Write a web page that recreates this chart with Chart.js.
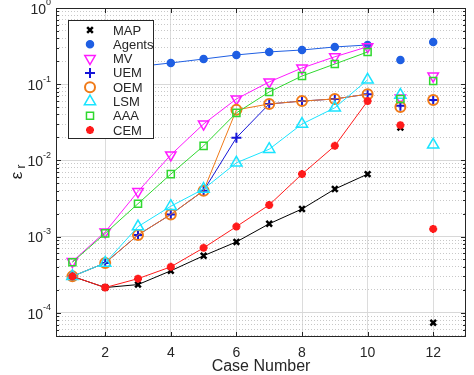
<!DOCTYPE html>
<html>
<head>
<meta charset="utf-8">
<script src="https://cdn.jsdelivr.net/npm/chart.js@4.4.0/dist/chart.umd.min.js"></script>
<style>
  html, body { margin: 0; padding: 0; background: #fff; }
</style>
</head>
<body>
<canvas id="chart" width="474" height="375"></canvas>
<script>
// case numbers on the x axis
const cases = [1, 2, 3, 4, 5, 6, 7, 8, 9, 10, 11, 12];

// relative error per method (cases 11 and 12 are not joined by lines)
const mapErr    = [3.0e-4, 2.14e-4, 2.34e-4, 3.55e-4, 5.6e-4, 8.5e-4, 1.47e-3, 2.3e-3, 4.2e-3, 6.6e-3, 0.027, 7.4e-5];
const agentsErr = [0.13, 0.15, 0.17, 0.19, 0.214, 0.242, 0.265, 0.281, 0.308, 0.327, 0.208, 0.358];
const mvErr     = [4.7e-4, 1.15e-3, 3.9e-3, 0.0118, 0.030, 0.064, 0.107, 0.163, 0.229, 0.31, 0.066, 0.128];
const uemErr    = [3.0e-4, 4.5e-4, 1.05e-3, 1.95e-3, 4.0e-3, 0.0198, 0.055, 0.060, 0.064, 0.074, 0.052, 0.062];
const oemErr    = [3.0e-4, 4.5e-4, 1.05e-3, 1.95e-3, 4.0e-3, 0.046, 0.055, 0.060, 0.064, 0.074, 0.050, 0.062];
const lsmErr    = [3.0e-4, 4.5e-4, 1.35e-3, 2.5e-3, 4.2e-3, 9.3e-3, 0.014, 0.030, 0.049, 0.114, 0.072, 0.016];
const aaaErr    = [4.6e-4, 1.1e-3, 2.7e-3, 6.6e-3, 0.0155, 0.042, 0.079, 0.128, 0.184, 0.265, 0.064, 0.11];
const cemErr    = [3.0e-4, 2.14e-4, 2.8e-4, 4.0e-4, 7.1e-4, 1.35e-3, 2.6e-3, 6.6e-3, 0.0155, 0.060, 0.029, 1.26e-3];

// tick labels
const xTicks = [2, 4, 6, 8, 10, 12];
const yTicks = [1e-4, 1e-3, 1e-2, 1e-1, 1];
const yExps  = ['-4', '-3', '-2', '-1', '0'];

const lastJoined = 10;
const textColor = '#262626';
const fontFam = "'Liberation Sans', Arial, sans-serif";

function series(label, data, color, style, opts) {
  return Object.assign({
    label: label,
    data: data,
    borderColor: color,
    backgroundColor: 'rgba(0,0,0,0)',
    pointBorderColor: color,
    pointBackgroundColor: 'rgba(0,0,0,0)',
    pointStyle: style,
    pointRadius: 5,
    pointHoverRadius: 5,
    pointBorderWidth: 1.5,
    borderWidth: 1,
    tension: 0,
    segment: {
      borderColor: ctx => ctx.p0.parsed.x >= lastJoined ? 'rgba(0,0,0,0)' : undefined
    }
  }, opts || {});
}

const datasets = [
  series('MAP', mapErr, '#000000', 'crossRot', { pointRadius: 4, pointBorderWidth: 2.5, order: 8 }),
  series('Agents', agentsErr, '#1f5fe3', 'circle', { pointRadius: 3.5, pointBackgroundColor: '#1f5fe3', order: 7 }),
  series('MV', mvErr, '#ff1aff', 'triangle', { pointRotation: 180, pointRadius: 6, order: 6 }),
  series('UEM', uemErr, '#1515d8', 'cross', { pointRadius: 5, pointBorderWidth: 2, order: 5 }),
  series('OEM', oemErr, '#f07a18', 'circle', { pointRadius: 5, pointBorderWidth: 2, order: 4 }),
  series('LSM', lsmErr, '#1ae4ff', 'triangle', { pointRadius: 6.5, order: 3 }),
  series('AAA', aaaErr, '#2fd82f', 'rect', { pointRadius: 5, order: 2 }),
  series('CEM', cemErr, '#ff1a1a', 'star', { pointRadius: 4, pointBorderWidth: 2.5, order: 1 })
];

// axes box, inward ticks, y labels, y title, x title, legend
const decorPlugin = {
  id: 'decor',
  afterDraw(chart) {
    const c = chart.ctx;
    const a = chart.chartArea;
    const xs = chart.scales.x;
    const ys = chart.scales.y;
    c.save();
    c.strokeStyle = textColor;
    c.lineWidth = 1;
    c.beginPath();
    c.rect(a.left + 0.5, a.top + 0.5, a.right - a.left - 1, a.bottom - a.top - 1);
    c.stroke();
    // x ticks (inward, bottom and top)
    c.beginPath();
    xTicks.forEach(v => {
      const px = Math.round(xs.getPixelForValue(v)) + 0.5;
      c.moveTo(px, a.bottom); c.lineTo(px, a.bottom - 5);
      c.moveTo(px, a.top); c.lineTo(px, a.top + 5);
    });
    // y ticks (inward, left and right)
    ys.ticks.forEach(t => {
      const py = Math.round(ys.getPixelForValue(t.value)) + 0.5;
      const len = t.major ? 5 : 3;
      c.moveTo(a.left, py); c.lineTo(a.left + len, py);
      c.moveTo(a.right, py); c.lineTo(a.right - len, py);
    });
    c.stroke();

    // y tick labels 10^n
    c.fillStyle = textColor;
    c.textBaseline = 'middle';
    yTicks.forEach((v, i) => {
      const py = ys.getPixelForValue(v);
      c.font = '9px ' + fontFam;
      c.textAlign = 'right';
      const sw = c.measureText(yExps[i]).width;
      c.fillText(yExps[i], 51, py - 5);
      c.font = '14px ' + fontFam;
      c.fillText('10', 51 - sw, py + 2);
    });

    // y title
    c.save();
    c.translate(17, (a.top + a.bottom) / 2);
    c.rotate(-Math.PI / 2);
    c.textAlign = 'center';
    c.font = '17px ' + fontFam;
    c.fillText('\u03b5', -3, 0);
    c.font = '12px ' + fontFam;
    c.fillText('r', 6, 5);
    c.restore();

    // x title
    c.textAlign = 'center';
    c.font = '16px ' + fontFam;
    c.fillText('Case Number', (a.left + a.right) / 2, 367);

    // legend
    const lx = 68, ly = 20, lw = 85, lh = 118;
    c.fillStyle = '#ffffff';
    c.fillRect(lx, ly, lw, lh);
    c.strokeStyle = '#262626';
    c.strokeRect(lx + 0.5, ly + 0.5, lw, lh);
    datasets.forEach((d, i) => {
      const yy = 30 + i * 14.3;
      c.save();
      c.strokeStyle = d.pointBorderColor;
      c.fillStyle = d.pointBackgroundColor;
      c.lineWidth = d.pointBorderWidth;
      Chart.helpers.drawPoint(c, {
        pointStyle: d.pointStyle,
        radius: d.pointRadius,
        rotation: d.pointRotation || 0,
        borderWidth: d.pointBorderWidth
      }, 90, yy);
      c.restore();
      c.fillStyle = textColor;
      c.textAlign = 'left';
      c.font = '13px ' + fontFam;
      c.fillText(d.label, 113, yy + 1);
    });
    c.restore();
  }
};

const config = {
  type: 'line',
  data: { labels: cases, datasets: datasets },
  options: {
    responsive: false,
    animation: false,
    layout: { padding: { top: 8, right: 1, left: 0, bottom: 0 } },
    plugins: { legend: { display: false }, tooltip: { enabled: false } },
    scales: {
      x: {
        type: 'linear',
        min: 0.5,
        max: 13,
        afterBuildTicks: scale => { scale.ticks = xTicks.map(v => ({ value: v })); },
        afterFit: scale => { scale.height = 38; },
        grid: { color: '#dcdcdc', drawTicks: false },
        border: { display: false },
        ticks: {
          autoSkip: false,
          maxRotation: 0,
          padding: 8,
          color: textColor,
          font: { family: fontFam, size: 14 },
          callback: v => String(v)
        }
      },
      y: {
        type: 'logarithmic',
        min: 4.8e-5,
        max: 1,
        afterBuildTicks: scale => {
          const t = [];
          for (let e = -5; e <= 0; e++) {
            for (let k = 1; k <= 9; k++) {
              const v = k * Math.pow(10, e);
              if (v >= scale.min * 0.999 && v <= scale.max * 1.001) t.push({ value: v, major: k === 1 });
            }
          }
          scale.ticks = t;
        },
        afterFit: scale => { scale.width = 56; },
        grid: {
          drawTicks: false,
          color: ctx => ctx.tick && ctx.tick.major ? '#d8d8d8' : '#c8c8c8'
        },
        border: {
          display: false,
          dash: ctx => ctx.tick && ctx.tick.major ? [] : [1, 2]
        },
        ticks: { display: false, autoSkip: false }
      }
    }
  },
  plugins: [decorPlugin]
};

const chart = new Chart(document.getElementById('chart'), config);
</script>
</body>
</html>
